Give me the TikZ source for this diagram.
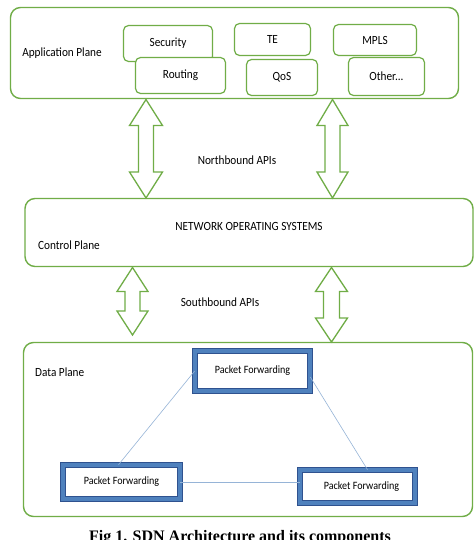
\documentclass[tikz,border=0pt]{standalone}
\usepackage{fontspec}
\setmainfont{Carlito}[FakeStretch=0.9]
\newfontfamily\capfont{Liberation Serif}
\definecolor{offgreen}{RGB}{112,173,71}
\definecolor{pfblue}{RGB}{79,129,189}
\definecolor{pfdark}{RGB}{47,82,143}
\definecolor{linkblue}{RGB}{150,180,215}
\newcommand\blkarrow[6]{%
  \draw[arrowbox] (#1-#4,#2+#6) -- (#1-#5,#2+#6) -- (#1,#2) -- (#1+#5,#2+#6) -- (#1+#4,#2+#6)
    -- (#1+#4,#3-#6) -- (#1+#5,#3-#6) -- (#1,#3) -- (#1-#5,#3-#6) -- (#1-#4,#3-#6) -- cycle;}
\begin{document}
\begin{tikzpicture}[x=1pt,y=-1pt,
  plane/.style={draw=offgreen, line width=1.4pt, rounded corners=10pt, fill=white, inner sep=0pt},
  appbox/.style={draw=offgreen, line width=1.2pt, rounded corners=5pt, fill=white, inner sep=0pt,
    font=\fontsize{12.5}{14}\selectfont},
  arrowbox/.style={draw=offgreen, line width=1.3pt, fill=white, line join=miter},
  lbl/.style={inner sep=0pt, font=\fontsize{12.5}{14}\selectfont},
  pf/.style={draw=pfdark, double=pfblue, double distance=4.2pt, line width=0.6pt, fill=white,
    inner sep=0pt, font=\fontsize{11.2}{13}\selectfont},
  link/.style={draw=linkblue, line width=0.6pt}]
\useasboundingbox (0,0) rectangle (474,540);
\fill[white] (0,0) rectangle (474,540);

% planes
\node[plane, minimum width=448pt, minimum height=91pt] (app) at (234.5,53) {};
\node[plane, minimum width=448pt, minimum height=68pt] (ctrl) at (249,232.5) {};
\node[plane, minimum width=449pt, minimum height=174pt] (data) at (248,429.5) {};

% application plane contents
\node[lbl] (applbl) at (62,53) {Application Plane};
\node[appbox, minimum width=89pt, minimum height=36pt] (sec) at (168,43.5) {Security};
\node[appbox, minimum width=90pt, minimum height=36pt] (rout) at (180.5,75.5) {Routing};
\node[appbox, minimum width=76pt, minimum height=32pt] (te) at (272.5,39.5) {TE};
\node[appbox, minimum width=71pt, minimum height=36pt] (qos) at (282,77.5) {QoS};
\node[appbox, minimum width=83pt, minimum height=31pt] (mpls) at (375,40) {MPLS};
\node[appbox, minimum width=76pt, minimum height=38pt] (other) at (386.5,76.5) {Other...};

% control plane contents
\node[lbl] (nos) at (249,226) {NETWORK OPERATING SYSTEMS};
\node[lbl, anchor=west] (ctrllbl) at (38,245) {Control Plane};

% data plane contents
\node[lbl, anchor=west] (datalbl) at (35,372) {Data Plane};
\node[pf, minimum width=115pt, minimum height=40pt] (tpf) at (252.5,371) {Packet Forwarding};
\node[pf, minimum width=117pt, minimum height=34pt] (bl) at (121.5,482) {Packet Forwarding};
\node[pf, minimum width=115pt, minimum height=33pt] (br) at (357.5,486.5) {\hspace{8pt}Packet Forwarding};

\draw[link] (tpf.west) -- ([xshift=-3pt]bl.north);
\draw[link] ([yshift=-6pt]tpf.east) -- ([xshift=10pt]br.north);
\draw[link] (bl.east) -- (bl.east -| br.west);

% northbound / southbound arrows
\blkarrow{146}{99.5}{198}{7.5}{16.5}{26}
\blkarrow{332.5}{99.5}{198}{7.5}{15.5}{26}
\blkarrow{132.5}{267.5}{335}{7.5}{15.5}{24}
\blkarrow{331.5}{267.5}{342}{8}{16}{24}
\node[lbl] (nb) at (237,160) {Northbound APIs};
\node[lbl] (sb) at (220,302) {Southbound APIs};

% caption
\node[anchor=base, inner sep=0pt, font=\capfont\bfseries\fontsize{16}{18}\selectfont] (cap) at (240,541.5)
  {Fig 1. SDN Architecture and its components};
\end{tikzpicture}
\end{document}
